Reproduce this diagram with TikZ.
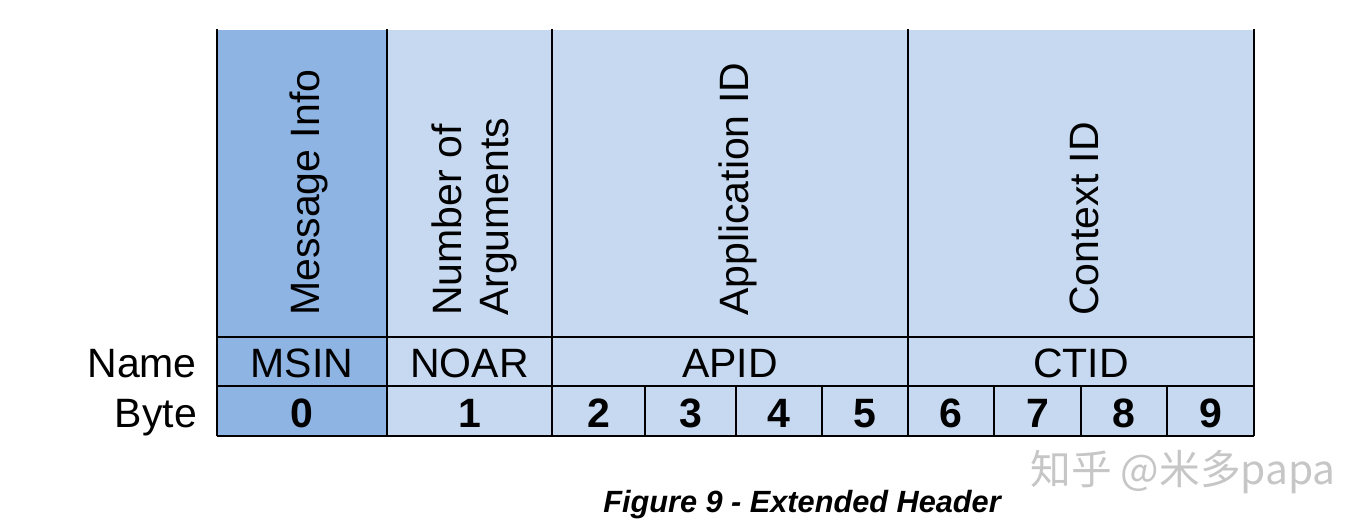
\documentclass[tikz,border=0pt]{standalone}
\usepackage{fontspec}
\setmainfont{Liberation Sans}
\newfontfamily\cjk{Noto Sans CJK SC}
\definecolor{darkcell}{HTML}{8EB4E3}
\definecolor{lightcell}{HTML}{C6D9F1}
\begin{document}
\begin{tikzpicture}[x=1pt,y=-1pt,
  big/.style={font=\fontsize{41}{47}\selectfont, inner sep=0pt},
  hdr/.style={big, rotate=90, anchor=base west, align=left},
  cell/.style={big, anchor=base},
  bytenum/.style={big, font=\fontsize{41}{47}\selectfont\bfseries, anchor=base},
  rowlabel/.style={big, anchor=base east},
  grid/.style={line width=1.4pt, black}]
\useasboundingbox (0,0) rectangle (1371,532);
% fills
\fill[darkcell] (217,30) rectangle (387,436);
\fill[lightcell] (387,30) rectangle (1254,436);
% grid lines
\draw[grid] (217,337) -- (1254,337);
\draw[grid] (217,386) -- (1254,386);
\draw[grid] (217,436) -- (1254,436);
\foreach \x in {217,387,552,908,1254} \draw[grid] (\x,29) -- (\x,436);
\foreach \x in {645,736,822,994,1081,1167} \draw[grid] (\x,386) -- (\x,436);
% header texts
\node[hdr] (msi) at (319,316) {Message Info};
\node[hdr, anchor=base west] (noa) at (508,316) {Number of\\Arguments};
\node[hdr] (api) at (748,316) {Application ID};
\node[hdr] (cti) at (1098,316) {Context ID};
% row labels
\node[rowlabel] (namelbl) at (197,377) {Name};
\node[rowlabel] (bytelbl) at (197,427) {Byte};
% name row
\node[cell] (msin) at (302,377) {MSIN};
\node[cell] (noar) at (469.5,377) {NOAR};
\node[cell] (apid) at (730,377) {APID};
\node[cell] (ctid) at (1081,377) {CTID};
% byte row
\node[bytenum] (b0) at (302,427) {0};
\node[bytenum] (b1) at (469.5,427) {1};
\node[bytenum] (b2) at (598.5,427) {2};
\node[bytenum] (b3) at (690.5,427) {3};
\node[bytenum] (b4) at (779,427) {4};
\node[bytenum] (b5) at (865,427) {5};
\node[bytenum] (b6) at (951,427) {6};
\node[bytenum] (b7) at (1037.5,427) {7};
\node[bytenum] (b8) at (1124,427) {8};
\node[bytenum] (b9) at (1210.5,427) {9};
% caption
\node[anchor=base, inner sep=0pt, font=\fontsize{30.7}{34}\selectfont\bfseries\itshape] (cap) at (802,512) {Figure 9 - Extended Header};
% watermark
\node[anchor=base, inner sep=0pt, text=gray!45, font=\cjk\fontsize{40.7}{44}\selectfont] (wm) at (1183,484) {知乎 @米多papa};
\end{tikzpicture}
\end{document}
